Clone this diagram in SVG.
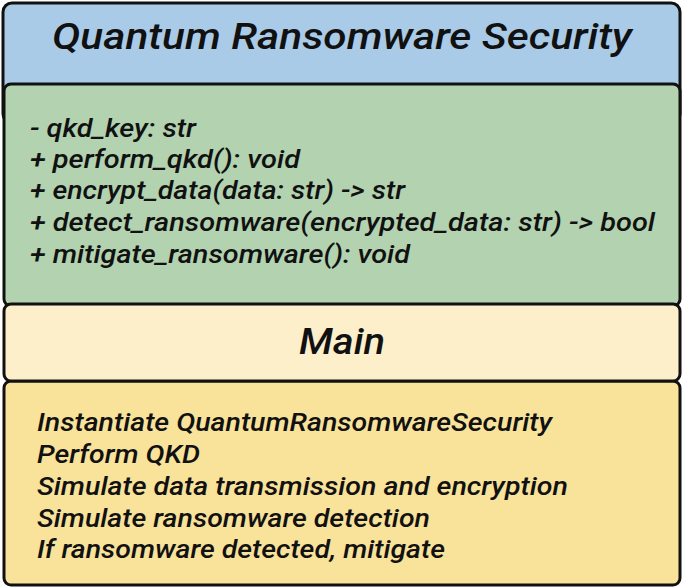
<svg xmlns="http://www.w3.org/2000/svg" width="685" height="588" viewBox="0 0 685 588">
<style>
.box{stroke:#111;stroke-width:3}
.t{font-family:Roboto,"Liberation Sans",sans-serif;font-style:italic;font-weight:500;fill:#111}
.h{font-size:37px;text-anchor:middle}
.b{font-size:25px}
</style>
<g id="class-header">
<rect class="box" x="3" y="3" width="677" height="120" rx="9" fill="#a9cbe7"/>
<text class="t h" x="342" y="49" textLength="580" lengthAdjust="spacingAndGlyphs">Quantum Ransomware Security</text>
</g>
<g id="class-members">
<rect class="box" x="4" y="84" width="676" height="222" rx="7" fill="#b2d2b0"/>
<text class="t b" x="30" y="137" textLength="166" lengthAdjust="spacingAndGlyphs">- qkd_key: str</text>
<text class="t b" x="30" y="168" textLength="270" lengthAdjust="spacingAndGlyphs">+ perform_qkd(): void</text>
<text class="t b" x="30" y="199" textLength="375" lengthAdjust="spacingAndGlyphs">+ encrypt_data(data: str) -&gt; str</text>
<text class="t b" x="30" y="231" textLength="625" lengthAdjust="spacingAndGlyphs">+ detect_ransomware(encrypted_data: str) -&gt; bool</text>
<text class="t b" x="30" y="263" textLength="380" lengthAdjust="spacingAndGlyphs">+ mitigate_ransomware(): void</text>
</g>
<g id="main-steps">
<rect class="box" x="4" y="381" width="676" height="204" rx="7" fill="#f9e29a"/>
<text class="t b" x="37" y="431" textLength="515" lengthAdjust="spacingAndGlyphs">Instantiate QuantumRansomwareSecurity</text>
<text class="t b" x="37" y="463" textLength="163" lengthAdjust="spacingAndGlyphs">Perform QKD</text>
<text class="t b" x="37" y="495" textLength="531" lengthAdjust="spacingAndGlyphs">Simulate data transmission and encryption</text>
<text class="t b" x="37" y="527" textLength="393" lengthAdjust="spacingAndGlyphs">Simulate ransomware detection</text>
<text class="t b" x="37" y="558" textLength="408" lengthAdjust="spacingAndGlyphs">If ransomware detected, mitigate</text>
</g>
<g id="main-header">
<rect class="box" x="4" y="304" width="676" height="77" rx="7" fill="#fdefca"/>
<text class="t h" x="342" y="354" textLength="86" lengthAdjust="spacingAndGlyphs">Main</text>
</g>
</svg>
